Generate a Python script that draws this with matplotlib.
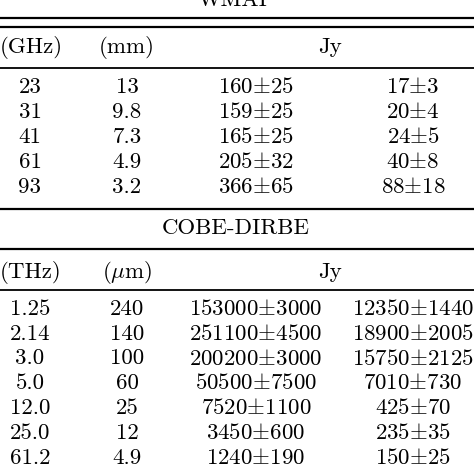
import matplotlib
matplotlib.use("Agg")
import matplotlib.pyplot as plt

plt.rcParams['font.family'] = 'cmr10'
plt.rcParams['mathtext.fontset'] = 'cm'
plt.rcParams['axes.unicode_minus'] = False

# table data ------------------------------------------------------------------
wmap_freq = ["23", "31", "41", "61", "93"]
wmap_wave = ["13", "9.8", "7.3", "4.9", "3.2"]
wmap_flux1 = ["160$\\pm$25", "159$\\pm$25", "165$\\pm$25", "205$\\pm$32", "366$\\pm$65"]
wmap_flux2 = ["17$\\pm$3", "20$\\pm$4", "24$\\pm$5", "40$\\pm$8", "88$\\pm$18"]

cobe_freq = ["1.25", "2.14", "3.0", "5.0", "12.0", "25.0", "61.2"]
cobe_wave = ["240", "140", "100", "60", "25", "12", "4.9"]
cobe_flux1 = ["153000$\\pm$3000", "251100$\\pm$4500", "200200$\\pm$3000",
              "50500$\\pm$7500", "7520$\\pm$1100", "3450$\\pm$600", "1240$\\pm$190"]
cobe_flux2 = ["12350$\\pm$1440", "18900$\\pm$2005", "15750$\\pm$2125",
              "7010$\\pm$730", "425$\\pm$70", "235$\\pm$35", "150$\\pm$25"]

# layout (pixel coords, y down) -----------------------------------------------
W = H = 474
cols = [30, 127, 256, 413]

fig = plt.figure(figsize=(4.74, 4.74), dpi=100)
ax = fig.add_axes([0, 0, 1, 1])
ax.set_xlim(0, W)
ax.set_ylim(H, 0)
ax.axis('off')

fs = 16.5

def txt(x, y, s):
    ax.text(x, y, s, ha='center', va='center', fontsize=fs, color='black')

def rule(y, lw=1.3):
    ax.plot([0, W], [y, y], color='black', lw=lw, solid_capstyle='butt')

txt(236, 0, "WMAP")
rule(18, 1.6)
rule(26.5, 1.6)
txt(31, 47, "(GHz)")
txt(127, 47, "(mm)")
txt(330, 47, "Jy")
rule(68, 1.3)
for i in range(len(wmap_freq)):
    y = 87 + i * 25
    for c, s in zip(cols, [wmap_freq[i], wmap_wave[i], wmap_flux1[i], wmap_flux2[i]]):
        txt(c, y, s)
rule(209, 1.6)
txt(236, 228, "COBE-DIRBE")
rule(248.5, 1.6)
txt(31, 272, "(THz)")
txt(127, 272, "($\\mu$m)")
txt(330, 272, "Jy")
rule(290, 1.3)
for i in range(len(cobe_freq)):
    y = 309 + i * 24.8
    for c, s in zip(cols, [cobe_freq[i], cobe_wave[i], cobe_flux1[i], cobe_flux2[i]]):
        txt(c, y, s)

fig.savefig("out.png", dpi=100)
